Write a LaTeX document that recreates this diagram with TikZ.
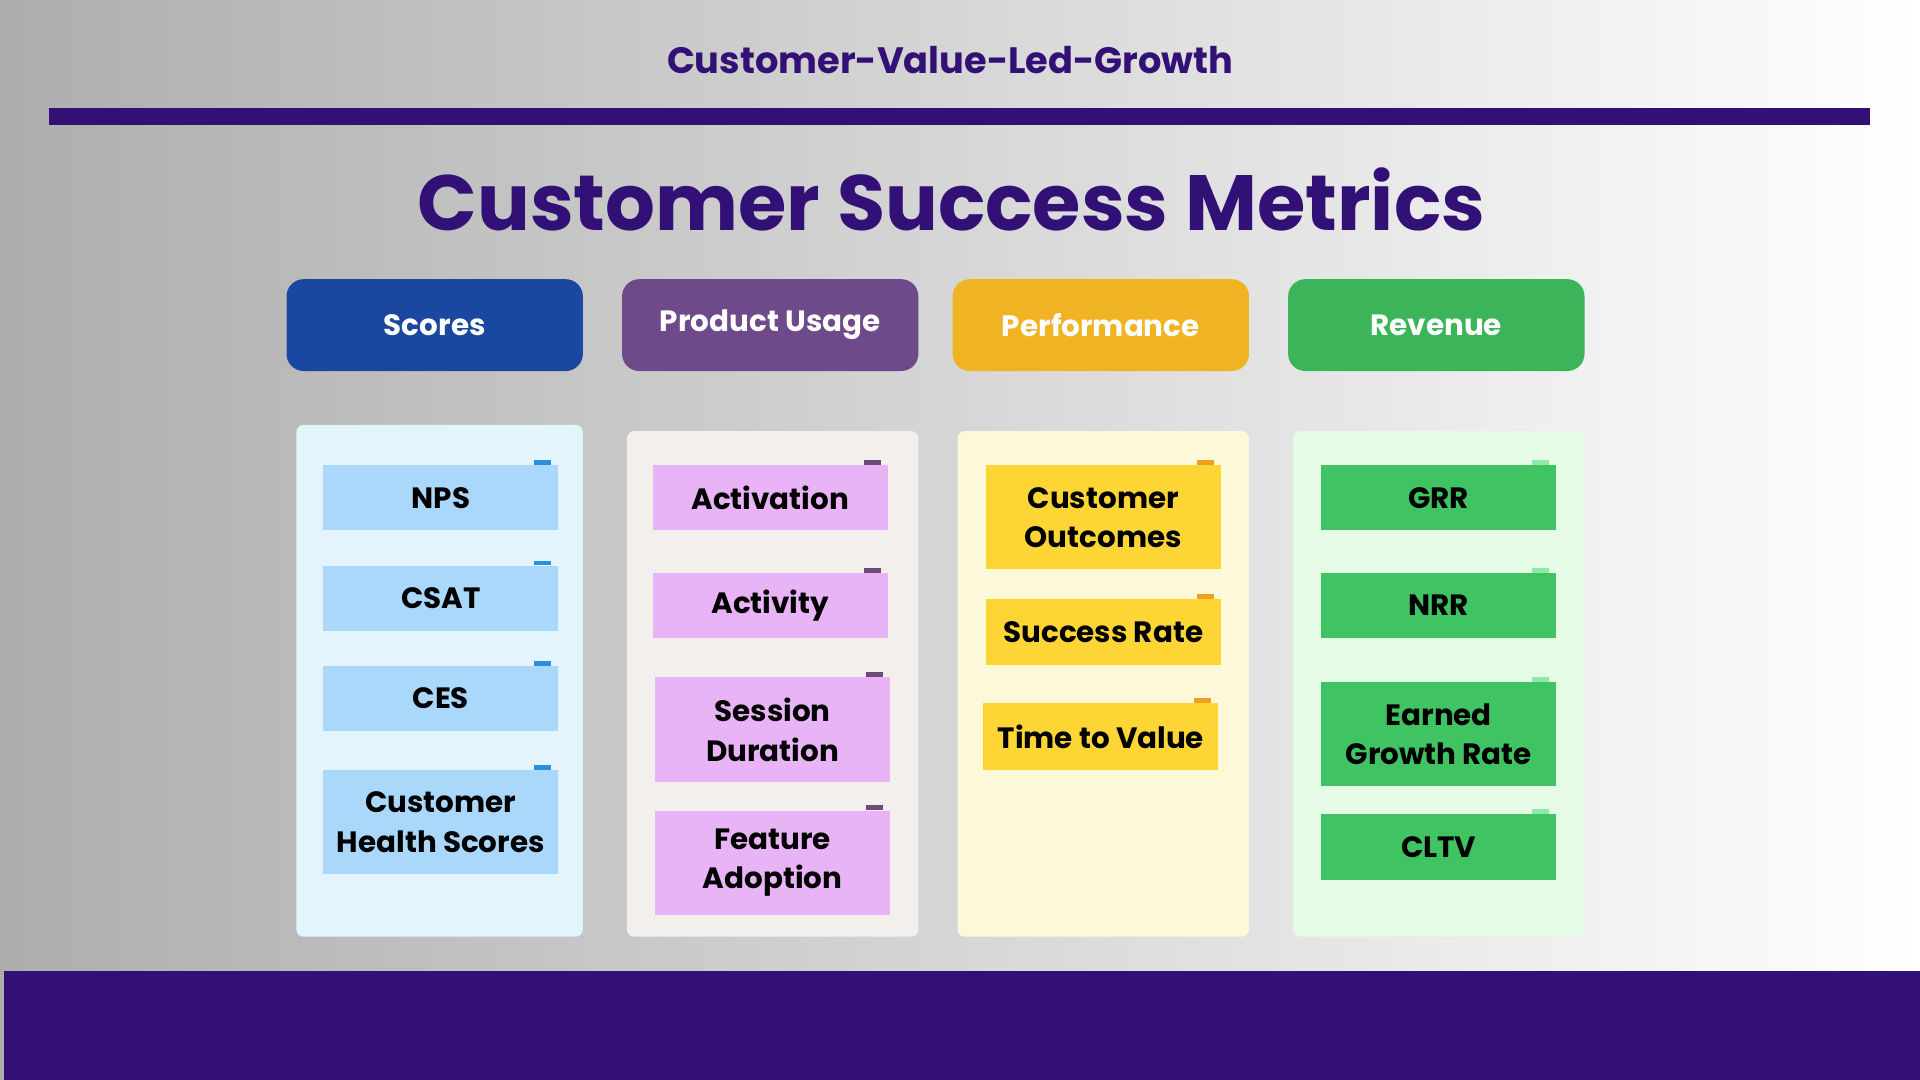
\documentclass[tikz,border=0pt]{standalone}
\usepackage{fontspec}
\setmainfont{Poppins}
\definecolor{deep}{HTML}{321075}
\definecolor{cScore}{HTML}{1A47A0}
\definecolor{cProd}{HTML}{6F4A8A}
\definecolor{cPerf}{HTML}{F0B323}
\definecolor{cRev}{HTML}{3CB55A}
\definecolor{pScore}{HTML}{E3F4FD}
\definecolor{pProd}{HTML}{F2EFEC}
\definecolor{pPerf}{HTML}{FDF8D8}
\definecolor{pRev}{HTML}{E5FBE6}
\definecolor{sScore}{HTML}{A9D8FB}
\definecolor{sProd}{HTML}{E8B4F6}
\definecolor{sPerf}{HTML}{FDD535}
\definecolor{sRev}{HTML}{40C463}
\definecolor{tScore}{HTML}{2A8FE0}
\definecolor{tProd}{HTML}{6A4B7A}
\definecolor{tPerf}{HTML}{F0A020}
\definecolor{tRev}{HTML}{8FE8A8}
\begin{document}
\begin{tikzpicture}[x=1pt,y=-1pt,
  header/.style={rounded corners=14pt,minimum width=242pt,minimum height=75pt,text=white,font=\fontsize{24}{28}\selectfont\bfseries},
  panel/.style={rounded corners=6pt,draw=none},
  sticky/.style={minimum width=192pt,align=center,font=\fontsize{24}{32}\selectfont\bfseries,text=black,inner sep=0pt},
  tab/.style={line width=4pt}]
\shade[left color=black!32,right color=white] (0,0) rectangle (1568,882);
\useasboundingbox (0,0) rectangle (1568,882);
\fill[deep] (3,793) rectangle (1568,882);
\fill[deep] (40,88) rectangle (1527,102);
\node[text=deep,font=\fontsize{30}{34}\selectfont\bfseries] (sub) at (776,49) {Customer-Value-Led-Growth};
\node[text=deep,font=\fontsize{64}{70}\selectfont\bfseries] (title) at (777,163) {Customer Success Metrics};
\node[header,fill=cScore] (h1) at (355,265.5) {Scores};
\node[header,fill=cProd] (h2) at (629,265.5) {Product Usage};
\node[header,fill=cPerf] (h3) at (899,265.5) {Performance};
\node[header,fill=cRev] (h4) at (1173,265.5) {Revenue};
\fill[panel,pScore] (242,347) rectangle (476,765);
\fill[panel,pProd] (512,352) rectangle (750,765);
\fill[panel,pPerf] (782,352) rectangle (1020,765);
\fill[panel,pRev] (1056,352) rectangle (1294,765);
% Scores
\node[sticky,fill=sScore,minimum height=53pt] (s1) at (360,406.5) {NPS};
\node[sticky,fill=sScore,minimum height=53pt] (s2) at (360,488.5) {CSAT};
\node[sticky,fill=sScore,minimum height=53pt] (s3) at (360,570.5) {CES};
\node[sticky,fill=sScore,minimum height=85pt] (s4) at (360,671.5) {Customer\\Health Scores};
% Product
\node[sticky,fill=sProd,minimum height=53pt] (p1) at (629,406.5) {Activation};
\node[sticky,fill=sProd,minimum height=53pt] (p2) at (629,494.5) {Activity};
\node[sticky,fill=sProd,minimum height=86pt] (p3) at (631,596) {Session\\Duration};
\node[sticky,fill=sProd,minimum height=85pt] (p4) at (631,704.5) {Feature\\Adoption};
% Performance
\node[sticky,fill=sPerf,minimum height=85pt] (f1) at (901,422.5) {Customer\\Outcomes};
\node[sticky,fill=sPerf,minimum height=54pt] (f2) at (901,516) {Success Rate};
\node[sticky,fill=sPerf,minimum height=55pt] (f3) at (899,601.5) {Time to Value};
% Revenue
\node[sticky,fill=sRev,minimum height=53pt] (r1) at (1175,406.5) {GRR};
\node[sticky,fill=sRev,minimum height=53pt] (r2) at (1175,494.5) {NRR};
\node[sticky,fill=sRev,minimum height=85pt] (r3) at (1175,599.5) {Earned\\Growth Rate};
\node[sticky,fill=sRev,minimum height=54pt] (r4) at (1175,692) {CLTV};
\foreach \n in {s1,s2,s3,s4}{\draw[tab,tScore] ([xshift=-20pt,yshift=2pt]\n.north east) -- ([xshift=-6pt,yshift=2pt]\n.north east);}
\foreach \n in {p1,p2,p3,p4}{\draw[tab,tProd] ([xshift=-20pt,yshift=2pt]\n.north east) -- ([xshift=-6pt,yshift=2pt]\n.north east);}
\foreach \n in {f1,f2,f3}{\draw[tab,tPerf] ([xshift=-20pt,yshift=2pt]\n.north east) -- ([xshift=-6pt,yshift=2pt]\n.north east);}
\foreach \n in {r1,r2,r3,r4}{\draw[tab,tRev] ([xshift=-20pt,yshift=2pt]\n.north east) -- ([xshift=-6pt,yshift=2pt]\n.north east);}
\end{tikzpicture}
\end{document}
